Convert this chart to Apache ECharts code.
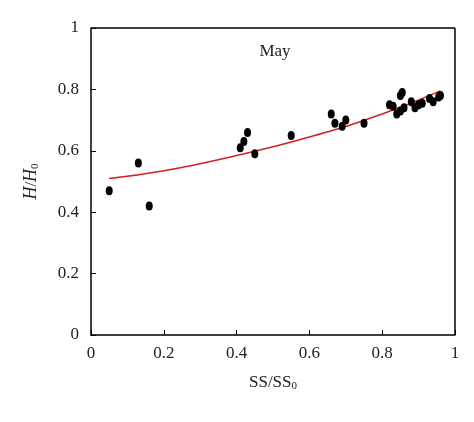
<!DOCTYPE html><html><head><meta charset="utf-8"><script src="https://cdn.jsdelivr.net/npm/echarts@6/dist/echarts.min.js"></script></head><body style="margin:0"><div id="c" style="width:474px;height:422px"></div><script>
const pointsX=[0.05,0.13,0.16,0.41,0.42,0.43,0.45,0.55,0.66,0.67,0.69,0.70,0.75,0.82,0.83,0.84,0.85,0.85,0.855,0.86,0.88,0.89,0.90,0.91,0.93,0.94,0.955,0.96];
const pointsY=[0.47,0.56,0.42,0.61,0.63,0.66,0.59,0.65,0.72,0.69,0.68,0.70,0.69,0.75,0.745,0.72,0.73,0.78,0.79,0.74,0.76,0.74,0.75,0.755,0.77,0.76,0.775,0.78];
const fitX=[0.05,0.2,0.4,0.6,0.8,0.96];
const fitY=[0.51,0.535,0.585,0.645,0.72,0.795];
const ticks=[0,0.2,0.4,0.6,0.8,1];
const f='Liberation Serif';
const ax={min:0,max:1,interval:0.2,axisLine:{lineStyle:{color:'#000',width:1.5}},axisTick:{inside:true,length:5,lineStyle:{color:'#000'}},axisLabel:{color:'#222',fontFamily:f,fontSize:17,formatter:v=>ticks.includes(v)?String(v):''},splitLine:{show:false}};
const c=echarts.init(document.getElementById('c'));
c.setOption({grid:{left:91,right:19,top:28,bottom:87},
title:{text:'May',left:270,textAlign:'center',top:38,textStyle:{fontFamily:f,fontSize:17,fontWeight:'normal',color:'#222'}},
xAxis:Object.assign({},ax,{name:'SS/SS{s|0}',nameLocation:'middle',nameGap:38,nameTextStyle:{fontFamily:f,fontSize:17,color:'#222',rich:{s:{fontSize:11,verticalAlign:'bottom',padding:[8,0,0,0],fontFamily:f}}},axisLabel:Object.assign({},ax.axisLabel,{margin:10})}),
yAxis:Object.assign({},ax,{name:'{i|H}/{i|H}{s|0}',nameLocation:'middle',nameGap:50,nameTextStyle:{fontFamily:f,fontSize:17,color:'#222',rich:{i:{fontStyle:'italic',fontSize:18,fontFamily:f},s:{fontSize:11,padding:[8,0,0,0],fontFamily:f}}},axisLabel:Object.assign({},ax.axisLabel,{margin:12})}),
series:[{type:'line',data:fitX.map((x,i)=>[x,fitY[i]]),smooth:true,showSymbol:false,lineStyle:{color:'#d42020',width:1.5},z:3},
{type:'scatter',data:pointsX.map((x,i)=>[x,pointsY[i]]),symbolSize:[7,9],itemStyle:{color:'#000',opacity:1},z:4},
{type:'line',data:[],markLine:{silent:true,symbol:'none',label:{show:false},lineStyle:{color:'#000',width:1.5,type:'solid'},data:[[{coord:[0,1]},{coord:[1,1]}],[{coord:[1,0]},{coord:[1,1]}]]}}]});
</script></body></html>
